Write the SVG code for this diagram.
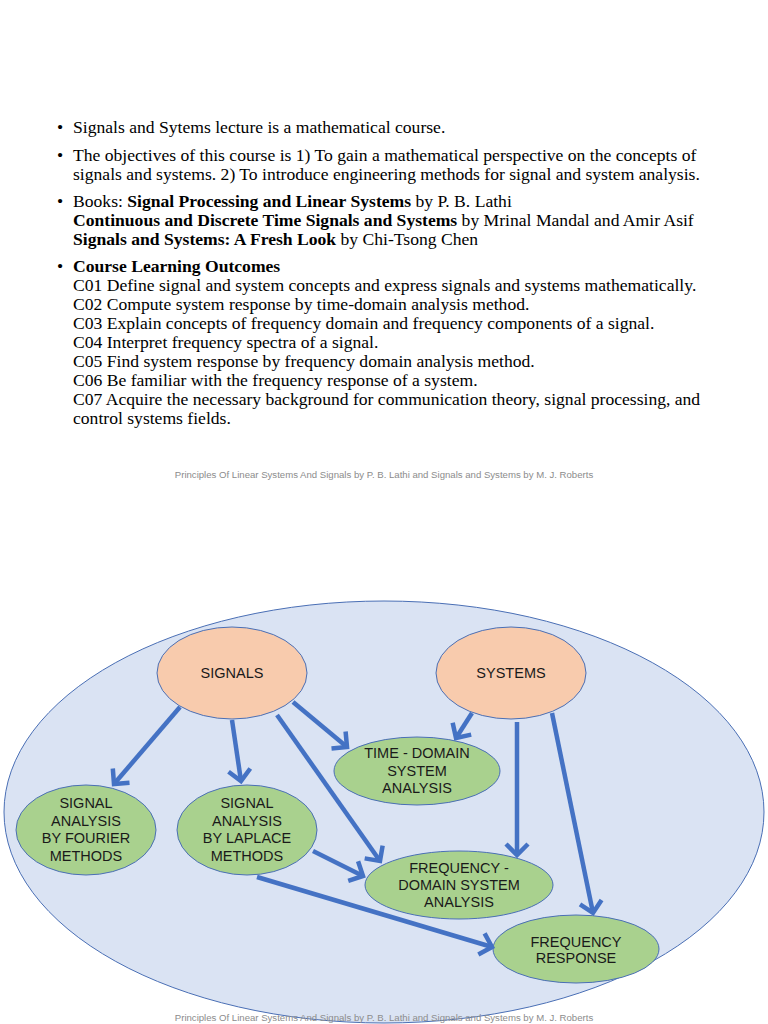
<svg xmlns="http://www.w3.org/2000/svg" width="768" height="1024" viewBox="0 0 768 1024">
<style>
.t{font-family:"Liberation Serif","Times New Roman",serif;font-size:17.6px;fill:#000}
.b{font-weight:bold}
.f{font-family:"Liberation Sans",Arial,sans-serif;font-size:9.6px;fill:#8c8c8c}
.n{font-family:"Liberation Sans",Arial,sans-serif;font-size:14.5px;fill:#1a1a1a;text-anchor:middle}
.o{fill:#f8cbad;stroke:#4a6fb5;stroke-width:1}
.g{fill:#a9d18e;stroke:#4a6fb5;stroke-width:1}
.c line{stroke:#4472c4;stroke-width:4.5;fill:none}
</style>
<defs>
<marker id="ah" markerUnits="userSpaceOnUse" markerWidth="30" markerHeight="30" refX="14" refY="12" orient="auto" viewBox="0 0 30 24">
<polyline points="3,1 14,12 3,23" fill="none" stroke="#4472c4" stroke-width="4.5" stroke-linecap="butt" stroke-linejoin="miter"/>
</marker>
</defs>
<rect width="768" height="1024" fill="#fff"/>
<g id="text">
<text class="t" x="57" y="133">•</text>
<text class="t" x="73" y="133">Signals and Sytems lecture is a mathematical course.</text>
<text class="t" x="57" y="161">•</text>
<text class="t" x="73" y="161">The objectives of this course is 1) To gain a mathematical perspective on the concepts of</text>
<text class="t" x="73" y="180">signals and systems. 2) To introduce engineering methods for signal and system analysis.</text>
<text class="t" x="57" y="207">•</text>
<text class="t" x="73" y="207">Books: <tspan class="b">Signal Processing and Linear Systems</tspan> by P. B. Lathi</text>
<text class="t" x="73" y="226"><tspan class="b">Continuous and Discrete Time Signals and Systems</tspan> by Mrinal Mandal and Amir Asif</text>
<text class="t" x="73" y="245"><tspan class="b">Signals and Systems: A Fresh Look</tspan> by Chi-Tsong Chen</text>
<text class="t" x="57" y="272">•</text>
<text class="t b" x="73" y="272">Course Learning Outcomes</text>
<text class="t" x="73" y="291">C01 Define signal and system concepts and express signals and systems mathematically.</text>
<text class="t" x="73" y="310">C02 Compute system response by time-domain analysis method.</text>
<text class="t" x="73" y="329">C03 Explain concepts of frequency domain and frequency components of a signal.</text>
<text class="t" x="73" y="348">C04 Interpret frequency spectra of a signal.</text>
<text class="t" x="73" y="367">C05 Find system response by frequency domain analysis method.</text>
<text class="t" x="73" y="386">C06 Be familiar with the frequency response of a system.</text>
<text class="t" x="73" y="405">C07 Acquire the necessary background for communication theory, signal processing, and</text>
<text class="t" x="73" y="424">control systems fields.</text>
<text class="f" x="384" y="478" text-anchor="middle">Principles Of Linear Systems And Signals by P. B. Lathi and Signals and Systems by M. J. Roberts</text>
</g>
<g id="frame">
<ellipse cx="384" cy="812" rx="380" ry="211" fill="#dae3f3" stroke="#4a6fb5" stroke-width="1"/>
</g>
<g id="signals"><ellipse class="o" cx="232" cy="673" rx="75" ry="46"/><text class="n" x="232" y="678">SIGNALS</text></g>
<g id="systems"><ellipse class="o" cx="511" cy="673" rx="75" ry="46"/><text class="n" x="511" y="678">SYSTEMS</text></g>
<g id="fourier"><ellipse class="g" cx="86" cy="830" rx="70" ry="45"/>
<text class="n" x="86" y="808">SIGNAL</text><text class="n" x="86" y="826">ANALYSIS</text><text class="n" x="86" y="843">BY FOURIER</text><text class="n" x="86" y="861">METHODS</text></g>
<g id="laplace"><ellipse class="g" cx="247" cy="830" rx="70" ry="45"/>
<text class="n" x="247" y="808">SIGNAL</text><text class="n" x="247" y="826">ANALYSIS</text><text class="n" x="247" y="843">BY LAPLACE</text><text class="n" x="247" y="861">METHODS</text></g>
<g id="timedomain"><ellipse class="g" cx="417" cy="771" rx="83" ry="34"/>
<text class="n" x="417" y="758">TIME - DOMAIN</text><text class="n" x="417" y="776">SYSTEM</text><text class="n" x="417" y="793">ANALYSIS</text></g>
<g id="freqdomain"><ellipse class="g" cx="459" cy="885" rx="94" ry="34"/>
<text class="n" x="459" y="873">FREQUENCY -</text><text class="n" x="459" y="890">DOMAIN SYSTEM</text><text class="n" x="459" y="907">ANALYSIS</text></g>
<g id="freqresp"><ellipse class="g" cx="576" cy="949" rx="83" ry="34"/>
<text class="n" x="576" y="947">FREQUENCY</text><text class="n" x="576" y="963">RESPONSE</text></g>
<g id="connectors" class="c">
<line x1="180" y1="707" x2="114" y2="784" marker-end="url(#ah)"/>
<line x1="232" y1="720" x2="241" y2="781" marker-end="url(#ah)"/>
<line x1="277" y1="715" x2="380" y2="861" marker-end="url(#ah)"/>
<line x1="293" y1="702" x2="347" y2="747" marker-end="url(#ah)"/>
<line x1="313" y1="851" x2="363" y2="876" marker-end="url(#ah)"/>
<line x1="257" y1="877" x2="492" y2="947" marker-end="url(#ah)"/>
<line x1="472" y1="713" x2="456" y2="738" marker-end="url(#ah)"/>
<line x1="517" y1="722" x2="517" y2="855" marker-end="url(#ah)"/>
<line x1="552" y1="713" x2="593" y2="913" marker-end="url(#ah)"/>
</g>
<text class="f" x="384" y="1021" text-anchor="middle">Principles Of Linear Systems And Signals by P. B. Lathi and Signals and Systems by M. J. Roberts</text>
</svg>
